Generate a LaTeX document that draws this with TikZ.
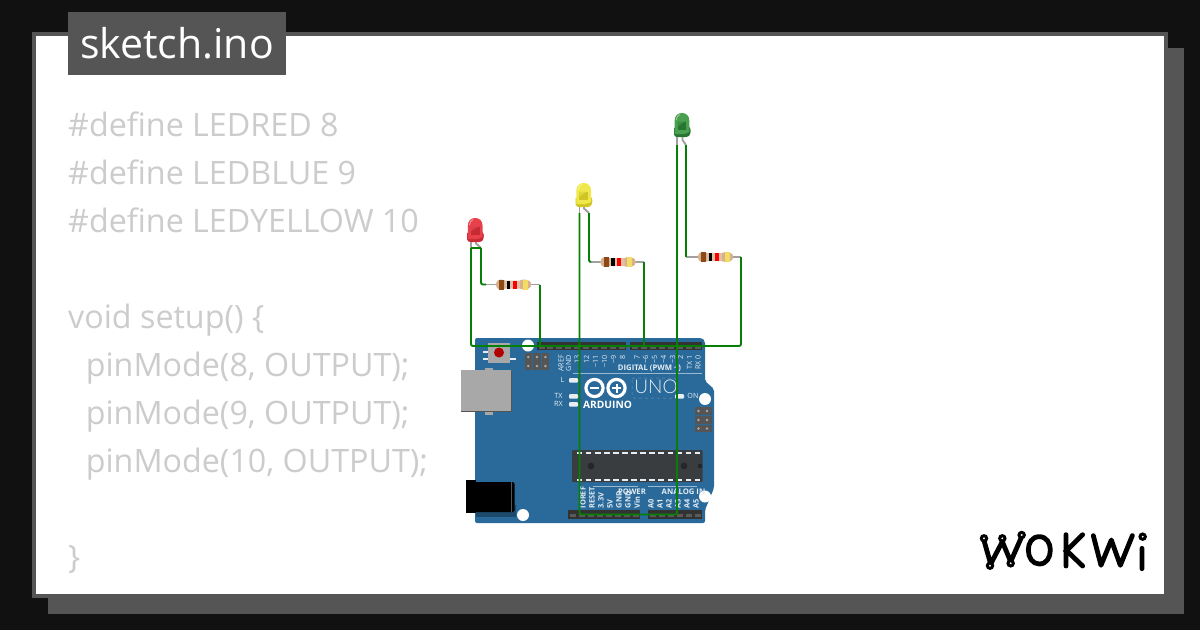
\documentclass[tikz,border=0pt]{standalone}
\usepackage{fontspec}
\setmainfont{Open Sans}
\newfontfamily\unofont{Lato Light}
\usetikzlibrary{calc}
\definecolor{bgdark}{HTML}{111111}
\definecolor{frame}{HTML}{555555}
\definecolor{codegray}{HTML}{CCCCCC}
\definecolor{board}{HTML}{2A6A9B}
\definecolor{wiregreen}{HTML}{058005}
\definecolor{hdr}{HTML}{333333}
\definecolor{sock}{HTML}{5A5A58}
\definecolor{leadgray}{HTML}{A0A0A0}
\definecolor{usbgray}{HTML}{A8A8A8}
\definecolor{silk}{HTML}{E6EDF3}
\definecolor{chip}{HTML}{3A3D40}
\definecolor{resbody}{HTML}{DFC2A5}
\definecolor{resend}{HTML}{D9B08D}
\definecolor{resbrown}{HTML}{8B4A18}
\definecolor{resgold}{HTML}{F3DC63}
\definecolor{redA1}{HTML}{E8414B}
\definecolor{redA2}{HTML}{C62A32}
\definecolor{redA3}{HTML}{D84048}
\definecolor{yelA1}{HTML}{F0E84A}
\definecolor{yelA2}{HTML}{CFC625}
\definecolor{yelA3}{HTML}{E2D93F}
\definecolor{greA1}{HTML}{4A9F50}
\definecolor{greA2}{HTML}{277530}
\definecolor{greA3}{HTML}{3A9042}
\tikzset{
  codeline/.style={anchor=base west,inner sep=0pt,text=codegray,font=\fontsize{32.25}{32}\selectfont},
  pinlabel/.style={rotate=90,inner sep=0pt,text=silk},
  pinlabeltop/.style={pinlabel,anchor=east,font=\fontsize{7.2}{7}\selectfont},
  pinlabelbot/.style={pinlabel,anchor=west,font=\fontsize{7.4}{7}\selectfont\bfseries},
  heading/.style={inner sep=0pt,text=silk,font=\fontsize{7.7}{7}\selectfont\bfseries},
  sidelabel/.style={inner sep=0pt,text=silk,font=\fontsize{7.2}{7}\selectfont},
  wire/.style={draw=wiregreen,line width=1.9pt,rounded corners=2pt},
  lead/.style={draw=leadgray,line width=1.9pt},
  silkline/.style={draw=silk,opacity=.6,line width=.7pt},
  boardled/.style={fill=silk,draw=none,rounded corners=1pt},
  pics/led/.style n args={3}{code={
    \fill[#2] (0,15) -- (0,21.5) .. controls (0,23.5) and (2,24) .. (4,24) -- (12,24)
       .. controls (15,24) and (17,21) .. (16.6,17) .. controls (16.4,15) and (15.6,14.5) .. (15,14) -- cycle;
    \fill[#1] (.6,21) -- (.6,8) .. controls (.6,2.5) and (4,0) .. (8,0) .. controls (12,0) and (15.4,2.5) .. (15.4,8)
       -- (15.4,19) .. controls (12,21.5) and (4,21.5) .. (.6,21) -- cycle;
    \fill[#2] (3.7,8.5) rectangle (12.3,17);
    \fill[#3] (3.7,8.5) -- (11,8.5) -- (3.7,13.5) -- cycle;
    \draw[white,opacity=.5,line width=.8pt] (2.2,7) .. controls (2.4,4) and (4,2.2) .. (6,1.6);
  }},
  pics/resistor/.style={code={
    \fill[rounded corners=3.2pt,resbody] (0,-4) rectangle (35,4);
    \fill[resend] (5.5,-5) .. controls (1.5,-5.2) and (0,-2.5) .. (0,0) .. controls (0,2.5) and (1.5,5.2) .. (5.5,5) -- (9,4) -- (9,-4) -- cycle;
    \fill[resend] (27,-5) .. controls (33,-5.2) and (35,-2.5) .. (35,0) .. controls (35,2.5) and (33,5.2) .. (27,5) -- (24,4) -- (24,-4) -- cycle;
    \fill[resbrown] (3.4,-5) rectangle (8.3,5);
    \fill[black] (10.7,-4) rectangle (14.3,4);
    \fill[red] (16.7,-4) rectangle (20.7,4);
    \fill[resgold] (26.7,-5) rectangle (31.5,5);
  }}
}
\begin{document}
\begin{tikzpicture}[x=1pt,y=-1pt]
\useasboundingbox (0,0) rectangle (1200,630);
% page
\fill[bgdark] (0,0) rectangle (1200,630);
\fill[frame] (48,48) rectangle (1184,614);
\fill[frame] (32,32) rectangle (1168,598);
\fill[white] (36,36) rectangle (1164,594);
\fill[frame] (68,12) rectangle (286,75);
\node[inner sep=0pt,anchor=base,text=white,font=\fontsize{41}{41}\selectfont] (title) at (177,58) {sketch.ino};
% code
\node[codeline] (c1) at (68,136) {\#define LEDRED 8};
\node[codeline] (c2) at (68,184) {\#define LEDBLUE 9};
\node[codeline] (c3) at (68,232) {\#define LEDYELLOW 10};
\node[codeline] (c4) at (68,328) {void setup() \{};
\node[codeline] (c5) at (85.6,376) {pinMode(8, OUTPUT);};
\node[codeline] (c6) at (85.6,424) {pinMode(9, OUTPUT);};
\node[codeline] (c7) at (85.6,472) {pinMode(10, OUTPUT);};
\node[codeline] (c8) at (68,568) {\}};
% board
\fill[board,rounded corners=2pt] (475,338) -- (702,338) -- (705,341) -- (705,381) -- (714,389) -- (714,488) -- (705,510) -- (705,523) -- (475,523) -- cycle;
% jack shadow
\fill[board!70!black] (476,505) rectangle (516,517);
% holes
\fill[white] (528,345.5) circle (6);
\fill[white] (705,399) circle (6);
\fill[white] (705,496.5) circle (6);
\fill[white] (523,515) circle (6);
% top headers
\fill[hdr] (537,342) rectangle (626,349.5);
\fill[hdr] (630,342) rectangle (702,349.5);
\foreach \i in {0,...,9} \fill[sock] (538.5+8.95*\i,345.5) rectangle +(6,3);
\foreach \i in {0,...,7} \fill[sock] (632+8.95*\i,345.5) rectangle +(6,3);
% bottom headers
\fill[hdr] (568,510) rectangle (640,518.5);
\fill[hdr] (648,510) rectangle (702,518.5);
\foreach \i in {0,...,7} \fill[sock] (570+8.95*\i,514) rectangle +(6,3);
\foreach \i in {0,...,5} \fill[sock] (650+8.95*\i,514) rectangle +(6,3);
% reset button
\fill[silk] (483,350.5) rectangle (489,353);
\fill[silk] (483,357.5) rectangle (489,360);
\fill[silk] (509,357.5) rectangle (516,360);
\fill[usbgray] (488,343) rectangle (510,363);
\fill[red!70!black] (499,352.5) circle (5);
% ICSP 1
\foreach \x in {528.3,536.9,545.4} {
  \fill[frame] (\x-3.6,353) rectangle (\x+3.6,370);
  \fill[usbgray] (\x,357) circle (1.4);
  \fill[usbgray] (\x,366) circle (1.4);
}
% ICSP 2
\foreach \y in {411,420,428.5} {
  \fill[frame] (694.5,\y-3.7) rectangle (711.5,\y+3.7);
  \fill[usbgray] (698.5,\y) circle (1.4);
  \fill[usbgray] (707,\y) circle (1.4);
}
% USB
\fill[usbgray] (485,367.5) rectangle (493,414.5);
\fill[black!50!usbgray] (461,371) rectangle (512,412);
\fill[usbgray] (461,370) rectangle (511,411);
% power jack
\fill[black] (466,480) rectangle (476,513);
\fill[black,rounded corners=2pt] (475,482) rectangle (514.5,512);
\draw[frame,line width=.6pt] (511,482) -- (511,512);
% chip
\fill[chip,rounded corners=1pt] (572,450) rectangle (702.5,482);
\foreach \i in {0,...,13} {
  \fill[silk] (577+9.05*\i,452.2) rectangle +(5.4,1.8);
  \fill[silk] (577+9.05*\i,478.8) rectangle +(5.4,1.8);
}
\fill[black!85] (591,466) circle (3.4);
\fill[black!85] (684,466) circle (3.4);
\fill[black!85] (700,466) circle (2.4);
% silk labels top
\foreach \x/\t/\n in {561/AREF/a,568.5/GND/b,577/13/c,586.5/12/d,595.5/\textasciitilde 11/e,604.5/\textasciitilde 10/f,613.5/\textasciitilde 9/g,622.5/8/h,637/7/i,645.5/\textasciitilde 6/j,654.5/\textasciitilde 5/k,663.5/\textasciitilde 4/l,672.5/\textasciitilde 3/m,680.5/2/n,689.5/TX 1/o,698/RX 0/p}
  \node[pinlabeltop] (top\n) at (\x,355) {\t};
\node[heading] (digital) at (649.5,368.5) {DIGITAL (PWM \textasciitilde)};
\draw[silkline] (573,373.5) -- (702,373.5);
% silk labels bottom
\foreach \x/\t/\n in {583/IOREF/a,592/RESET/b,601/3.3V/c,610/5V/d,619/GND/e,628/GND/f,637/Vin/g,651/A0/h,660/A1/i,669/A2/j,678/A3/k,687/A4/l,696/A5/m}
  \node[pinlabelbot] (bot\n) at (\x,508.5) {\t};
\node[heading] (power) at (632,491.7) {POWER};
\node[heading] (analog) at (683.5,491.7) {ANALOG IN};
\draw[silkline] (593,486.7) -- (638,486.7);
\draw[silkline] (648,486.7) -- (697,486.7);
% board LEDs and side labels
\node[sidelabel] (lblL) at (562.5,380) {L};
\node[sidelabel] (lblTX) at (558.5,396) {TX};
\node[sidelabel] (lblRX) at (558.5,404) {RX};
\node[sidelabel] (lblON) at (693,396) {ON};
\fill[boardled] (569,378) rectangle (578,382.5);
\fill[boardled] (569,394) rectangle (578,398.5);
\fill[boardled] (569,402) rectangle (578,406.5);
\fill[boardled] (675,394) rectangle (684,398.5);
% arduino logo
\draw[white,line width=3.2pt] (594.5,388) circle (8.6);
\draw[white,line width=3.2pt] (616.5,388) circle (8.6);
\fill[white] (590,387) rectangle (599,389);
\fill[white] (612,387) rectangle (621,389);
\fill[white] (615.5,383.5) rectangle (617.5,392.5);
\node[inner sep=0pt,text=white,font=\fontsize{10.2}{10}\selectfont\bfseries] (arduino) at (607.5,404.5) {ARDUINO};
\draw[silk,opacity=.35,dashed,line width=.5pt,rounded corners=2pt] (632,378) rectangle (676,398);
\node[inner sep=0pt,text=silk,font=\fontsize{19}{19}\unofont] (uno) at (656,386.5) {UNO};
% named connection points
\coordinate (redA) at (471,248);
\coordinate (redC) at (481,248);
\coordinate (yelA) at (579.5,213);
\coordinate (yelC) at (589,213);
\coordinate (greA) at (677,145);
\coordinate (greC) at (686,145);
\coordinate (r1L) at (486,284.5);
\coordinate (r1R) at (540,284.5);
\coordinate (r2L) at (591,262);
\coordinate (r2R) at (644,262);
\coordinate (r3L) at (686,257);
\coordinate (r3R) at (741,257);
\coordinate (busL) at (471,346);
\coordinate (busR) at (741,346);
\coordinate (busA) at (540,346);
\coordinate (busB) at (644,346);
\coordinate (lowA) at (579.5,514.5);
\coordinate (lowB) at (677,514.5);
% LED pins
\draw[lead] (471,240) -- (redA);
\draw[lead] (476,240) -- (476,243.5) -- (redC);
\draw[lead] (579.5,205) -- (yelA);
\draw[lead] (584,205) -- (584,208.5) -- (yelC);
\draw[lead] (677,135) -- (greA);
\draw[lead] (682.5,135) -- (682.5,140) -- (greC);
% LEDs
\pic at (467.2,218) {led={redA1}{redA2}{redA3}};
\pic at (575.7,183) {led={yelA1}{yelA2}{yelA3}};
\pic at (674,113) {led={greA1}{greA2}{greA3}};
% resistor leads and bodies
\draw[lead] (r1L) -- (r1R);
\draw[lead] (r2L) -- (r2R);
\draw[lead] (r3L) -- (r3R);
\pic at (496,284.5) {resistor};
\pic at (600.5,262) {resistor};
\pic at (698,257) {resistor};
% wires
\draw[wire] (redA) -- (busL) -- (busR) -- (r3R);
\draw[wire,rounded corners=0pt] (redA) -- (redC);
\draw[wire] (redC) -- (redC|-r1L) -- (r1L);
\draw[wire,rounded corners=0pt] (r1R) -- (busA);
\draw[wire] (yelC) -- (yelC|-r2L) -- (r2L);
\draw[wire,rounded corners=0pt] (r2R) -- (busB);
\draw[wire] (greC) -- (greC|-r3L);
\draw[wire] (yelA) -- (lowA) -- (lowB) -- (greA);
% wokwi logo
\begin{scope}[shift={(970,520)},x=.3333pt,y=-.3333pt]
  \draw[black,line width=4.8pt,line cap=round,line join=round]
    (43,65) -- (62,132) -- (97,65) -- (122,125) -- (155,50)
    (208,50) .. controls (185,50) and (175,70) .. (175,90) .. controls (175,112) and (187,132) .. (208,132) .. controls (230,132) and (241,112) .. (241,90) .. controls (241,70) and (230,50) .. (208,50)
    (288,44) -- (288,138) (290,92) -- (338,44) (290,92) -- (338,138)
    (370,47) -- (393,136) -- (424,60) -- (451,136) -- (487,47)
    (516,85) -- (516,146);
  \foreach \p in {(42,55),(97,55),(155,45),(60,137),(122,130)}
    \draw[black,fill=white,line width=3pt] \p circle (8);
  \draw[black,fill=white,line width=2pt] (288,93) circle (5);
  \draw[black,fill=white,line width=3pt] (518,50) circle (8);
\end{scope}
\end{tikzpicture}
\end{document}
